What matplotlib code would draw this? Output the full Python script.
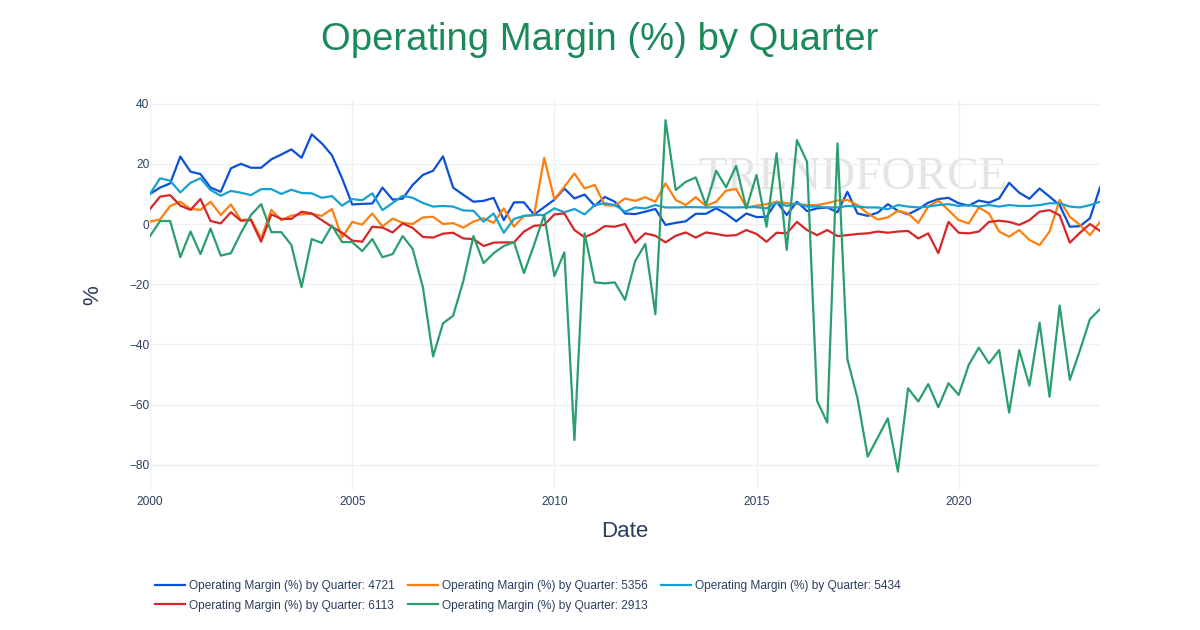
import numpy as np
import pandas as pd
import matplotlib
matplotlib.use("Agg")
import matplotlib.pyplot as plt

# quarterly values, 2000Q1 .. 2023Q3
quarters = pd.date_range("2000-01-01", periods=95, freq="QS")

m4721 = [10.0, 12.1, 13.5, 22.4, 17.4, 16.6, 12.1, 10.7, 18.5, 20.0,
         18.7, 18.7, 21.5, 23.1, 24.8, 22.0, 29.8, 26.8, 22.9, 15.2,
         6.5, 6.7, 6.8, 12.1, 8.1, 8.4, 13.0, 16.3, 17.7, 22.5,
         12.1, 9.7, 7.4, 7.7, 8.7, 1.3, 7.2, 7.2, 3.1, 5.6,
         8.1, 11.8, 8.5, 9.8, 6.0, 9.0, 7.4, 3.5, 3.3, 4.1,
         5.0, -0.3, 0.4, 0.9, 3.4, 3.4, 5.2, 3.4, 0.9, 3.5,
         2.3, 2.4, 7.4, 3.0, 7.4, 4.3, 5.2, 5.5, 3.9, 10.7,
         3.5, 2.7, 3.8, 6.6, 4.4, 3.2, 4.9, 7.1, 8.3, 8.7,
         6.9, 6.1, 7.8, 7.1, 8.5, 13.7, 10.4, 8.4, 11.8, 9.1,
         6.3, -0.9, -0.7, 1.9, 12.2]

m5356 = [0.8, 1.5, 6.0, 7.4, 5.0, 4.7, 7.4, 3.0, 6.5, 1.3,
         1.6, -4.8, 4.7, 1.3, 2.8, 3.2, 3.4, 2.7, 5.0, -4.5,
         0.7, -0.2, 3.5, -0.8, 1.8, 0.4, 0.0, 2.2, 2.4, 0.0,
         0.3, -1.2, 0.8, 1.9, 0.4, 5.2, -0.9, 2.7, 2.9, 22.0,
         8.2, 12.4, 16.8, 11.8, 13.0, 6.3, 6.1, 8.5, 7.7, 8.9,
         7.4, 13.5, 8.0, 6.3, 8.9, 6.0, 7.4, 11.1, 11.6, 5.5,
         6.1, 6.6, 7.4, 6.9, 6.6, 6.3, 6.3, 6.9, 7.8, 8.0,
         6.3, 3.5, 1.5, 2.2, 4.4, 3.5, 0.4, 5.8, 7.8, 4.6,
         1.3, 0.2, 5.5, 3.5, -2.5, -4.2, -2.0, -5.3, -7.0, -2.5,
         8.0, 2.4, -0.3, -3.7, 0.7]

m5434 = [10.0, 15.2, 14.4, 10.5, 13.7, 15.2, 11.3, 9.4, 11.0, 10.4,
         9.6, 11.6, 11.6, 10.0, 11.4, 10.3, 10.2, 8.7, 9.3, 6.1,
         8.3, 7.9, 10.2, 4.6, 7.0, 9.4, 8.7, 7.0, 5.8, 6.0,
         5.8, 4.5, 4.4, 0.8, 3.5, -2.9, 1.7, 2.7, 3.0, 3.0,
         5.2, 3.9, 5.0, 3.2, 6.3, 6.9, 6.3, 4.1, 5.5, 5.2,
         6.3, 5.5, 5.5, 5.6, 5.6, 5.5, 5.6, 5.5, 5.5, 5.6,
         5.6, 5.2, 7.1, 6.0, 6.9, 5.8, 5.8, 5.5, 5.5, 6.0,
         5.8, 5.5, 5.5, 4.9, 6.3, 5.8, 5.5, 5.8, 6.3, 6.6,
         6.0, 6.3, 5.8, 6.3, 5.8, 6.3, 6.0, 6.0, 6.3, 6.9,
         6.9, 5.8, 5.5, 6.3, 7.4]

m6113 = [5.0, 9.1, 9.6, 6.1, 4.7, 8.3, 1.0, 0.2, 3.9, 1.1,
         1.3, -5.9, 3.2, 1.7, 1.7, 4.1, 3.5, 1.3, -0.9, -2.9,
         -5.5, -5.9, -0.9, -1.2, -2.8, 0.2, -1.3, -4.3, -4.5, -3.2,
         -2.9, -4.8, -5.0, -7.3, -6.2, -6.1, -6.1, -2.5, -0.6, -0.3,
         3.2, 3.5, -2.0, -4.4, -2.9, -0.7, -0.9, 0.0, -6.2, -3.1,
         -3.9, -6.1, -3.9, -2.8, -4.5, -2.8, -3.3, -3.9, -3.7, -2.0,
         -3.3, -5.9, -2.9, -3.1, 0.7, -2.0, -3.7, -2.0, -4.0, -3.7,
         -3.3, -3.1, -2.5, -2.9, -2.5, -2.3, -4.8, -3.1, -9.7, 0.7,
         -2.9, -3.1, -2.5, 0.7, 1.1, 0.7, -0.3, 1.3, 4.1, 4.6,
         2.9, -6.2, -2.9, 0.0, -2.3]

m2913 = [-4.0, 1.0, 1.0, -11.0, -2.5, -10.0, -1.5, -10.5, -9.7, -3.0,
         3.0, 6.6, -2.7, -2.7, -7.0, -21.0, -5.0, -6.3, -0.5, -6.0,
         -6.0, -9.0, -5.0, -11.0, -10.0, -4.0, -8.3, -21.0, -44.0, -33.0,
         -30.5, -19.0, -4.0, -13.0, -9.7, -7.3, -6.0, -16.3, -7.0, 3.0,
         -17.3, -9.4, -71.8, -3.1, -19.4, -19.7, -19.4, -25.2, -12.3, -6.6,
         -30.0, 34.5, 11.3, 14.0, 15.5, 6.3, 17.7, 12.2, 19.3, 5.2,
         16.3, -0.9, 23.5, -8.6, 27.9, 20.7, -58.8, -66.0, 26.8, -45.0,
         -57.9, -77.3, -70.9, -64.6, -82.3, -54.6, -59.0, -53.2, -60.9, -52.9,
         -56.8, -46.8, -41.1, -46.3, -41.9, -62.7, -41.9, -53.7, -32.8, -57.4,
         -27.1, -51.8, -41.9, -31.6, -28.3]

names = ["4721", "5356", "5434", "6113", "2913"]
series = [m4721, m5356, m5434, m6113, m2913]
colors = ["#0a50d8", "#ff7f0e", "#17a0d2", "#d62728", "#2b9e6e"]

plt.rcParams["font.family"] = ["Liberation Sans", "DejaVu Sans"]
text_col = "#2a3f5f"

fig = plt.figure(figsize=(12, 6.3), dpi=100)
ax = fig.add_axes([0.125, 0.2222, 0.7917, 0.619])

# faint watermark behind the lines
ax.text(0.74, 0.8, "TRENDFORCE", transform=ax.transAxes, ha="center", va="center",
        fontsize=34, family="Liberation Serif", color="#e4e4e4", zorder=0)

handles = []
for name, vals, col in zip(names, series, colors):
    h, = ax.plot(quarters, vals, color=col, lw=1.6, zorder=3,
                 label="Operating Margin (%) by Quarter: " + name)
    handles.append(h)

ax.set_xlim(quarters[0], quarters[-1])
ax.set_ylim(-88.4, 41.2)
ax.set_yticks([-80, -60, -40, -20, 0, 20, 40])
ax.set_xticks(pd.to_datetime(["2000-01-01", "2005-01-01", "2010-01-01",
                              "2015-01-01", "2020-01-01"]))
ax.set_xticklabels(["2000", "2005", "2010", "2015", "2020"])

for s in ax.spines.values():
    s.set_visible(False)
ax.grid(True, color="#eef0f3", lw=1, zorder=1)
ax.set_axisbelow(True)
ax.tick_params(length=0, labelsize=8.6, labelcolor=text_col)
ax.tick_params(axis="x", pad=4)
ax.tick_params(axis="y", pad=0.5)

ax.set_xlabel("Date", fontsize=16, color=text_col, labelpad=10)
ax.set_ylabel("%", fontsize=16, color=text_col, labelpad=19)

fig.text(0.5, 0.937, "Operating Margin (%) by Quarter", ha="center", va="center",
         fontsize=27.5, color="#1b8a5a")

# row-major order for a 3-column legend
order = [0, 3, 1, 4, 2]
fig.legend([handles[i] for i in order], [handles[i].get_label() for i in order],
           loc="center left", bbox_to_anchor=(0.129, 0.054), ncol=3, frameon=False,
           fontsize=8.6, labelcolor=text_col, handlelength=2.5, handletextpad=0.4,
           columnspacing=1.05, labelspacing=0.6, borderpad=0, borderaxespad=0)

fig.savefig("out.png", dpi=100, facecolor="white")
